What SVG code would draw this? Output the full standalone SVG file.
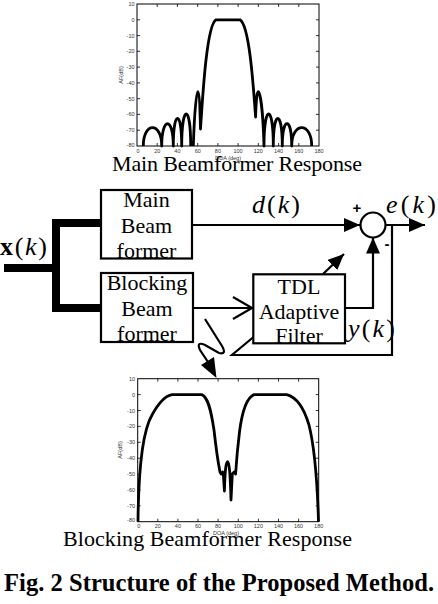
<svg xmlns="http://www.w3.org/2000/svg" width="438" height="604" viewBox="0 0 438 604">
<defs>
<style>
.ax{fill:none;stroke:#000;stroke-width:1}
.tk{fill:none;stroke:#000;stroke-width:0.8}
.cv{fill:none;stroke:#000;stroke-width:2.8;stroke-linejoin:round}
.tl{font-family:"Liberation Sans",Arial,sans-serif;font-size:5.5px;fill:#333}
.ln{fill:none;stroke:#000;stroke-width:2.2}
.bx{fill:#fff;stroke:#000;stroke-width:2.2}
.bt{font-family:"Liberation Serif","Times New Roman",serif;font-size:22px;fill:#000;text-anchor:middle}
.mt{font-family:"Liberation Serif","Times New Roman",serif;font-size:26px;fill:#000}
.cap{font-family:"Liberation Serif","Times New Roman",serif;font-size:22px;fill:#000;text-anchor:middle}
</style>
<marker id="ah" markerWidth="16" markerHeight="14" refX="16" refY="7" orient="auto" markerUnits="userSpaceOnUse"><path d="M0,0 L16,7 L0,14 z" fill="#000"/></marker>
</defs>

<g id="main-response-plot">
<rect class="ax" x="137" y="4" width="182" height="142"/>
<path class="tk" d="M157.2,146v-3M177.4,146v-3M197.7,146v-3M217.9,146v-3M238.1,146v-3M258.3,146v-3M278.6,146v-3M298.8,146v-3M157.2,4v3M177.4,4v3M197.7,4v3M217.9,4v3M238.1,4v3M258.3,4v3M278.6,4v3M298.8,4v3M137,19.8h3M137,35.6h3M137,51.3h3M137,67.1h3M137,82.9h3M137,98.7h3M137,114.4h3M137,130.2h3M319,19.8h-3M319,35.6h-3M319,51.3h-3M319,67.1h-3M319,82.9h-3M319,98.7h-3M319,114.4h-3M319,130.2h-3"/>
<path class="cv" d="M143.3,146 C143.3,121.6 161.7,121.6 161.7,146 C161.7,116.3 173.3,116.3 173.3,146 C173.3,109.1 181.7,109.1 181.7,146 C181.7,103.3 190.7,103.3 190.7,146 M193.3,146 C194.5,110 196.5,91.7 197.8,91.7 C199.2,91.7 199.8,105 200.5,129 C203,90 207,25 216,19.8 L240,19.8 C249,25 253,80 255.6,117 C256.2,96 257.3,91.7 258.4,91.7 C260,91.7 263,110 264,146 C264,103.3 273.3,103.3 273.3,146 C273.3,109.1 282.3,109.1 282.3,146 C282.3,116.3 291.7,116.3 291.7,146 C291.7,121.6 311.7,121.6 311.7,146"/>
<g class="tl" text-anchor="end">
<text x="134.5" y="6">10</text><text x="134.5" y="21.8">0</text><text x="134.5" y="37.6">-10</text><text x="134.5" y="53.3">-20</text><text x="134.5" y="69.1">-30</text><text x="134.5" y="84.9">-40</text><text x="134.5" y="100.7">-50</text><text x="134.5" y="116.4">-60</text><text x="134.5" y="132.2">-70</text><text x="134.5" y="146.5">-80</text>
</g>
<g class="tl" text-anchor="middle">
<text x="138" y="152.5">0</text><text x="157.2" y="152.5">20</text><text x="177.4" y="152.5">40</text><text x="197.7" y="152.5">60</text><text x="217.9" y="152.5">80</text><text x="238.1" y="152.5">100</text><text x="258.3" y="152.5">120</text><text x="278.6" y="152.5">140</text><text x="298.8" y="152.5">160</text><text x="319" y="152.5">180</text>
<text x="228" y="159.5">DOA (deg)</text>
<text x="0" y="0" transform="translate(123,75) rotate(-90)">AF(dB)</text>
</g>
<text class="cap" x="237" y="171" textLength="250" lengthAdjust="spacing">Main Beamformer Response</text>
</g>

<g id="blocking-response-plot">
<rect class="ax" x="137.7" y="378.7" width="181" height="143"/>
<path class="tk" d="M157.8,521.7v-3M177.9,521.7v-3M198,521.7v-3M218.1,521.7v-3M238.3,521.7v-3M258.4,521.7v-3M278.5,521.7v-3M298.6,521.7v-3M157.8,378.7v3M177.9,378.7v3M198,378.7v3M218.1,378.7v3M238.3,378.7v3M258.4,378.7v3M278.5,378.7v3M298.6,378.7v3M137.7,394.6h3M137.7,410.5h3M137.7,426.4h3M137.7,442.3h3M137.7,458.2h3M137.7,474.1h3M137.7,490h3M137.7,505.8h3M318.7,394.6h-3M318.7,410.5h-3M318.7,426.4h-3M318.7,442.3h-3M318.7,458.2h-3M318.7,474.1h-3M318.7,490h-3M318.7,505.8h-3"/>
<path class="cv" d="M138,521.7 C138.5,470 142,432 152,415 C158,404 164,396 172,394.6 L201.7,394.6 C208,397 211,410 214,430 C216,448 218,462 220,472 L221.2,474 L222.6,472 L223.4,475 L224.4,491 C225,470 226,461.7 227.7,461.7 C229.3,461.7 230.3,475 231,500 L232.3,474 L234.2,472 L235.6,474 C236.5,460 237.5,448 239.5,432 C242,412 246,398 254,394.6 L286.7,394.6 C296,397 304,408 309,425 C314,445 317,470 318.5,521.7"/>
<g class="tl" text-anchor="end">
<text x="135" y="380.7">10</text><text x="135" y="396.6">0</text><text x="135" y="412.5">-10</text><text x="135" y="428.4">-20</text><text x="135" y="444.3">-30</text><text x="135" y="460.2">-40</text><text x="135" y="476.1">-50</text><text x="135" y="492">-60</text><text x="135" y="507.8">-70</text><text x="135" y="522">-80</text>
</g>
<g class="tl" text-anchor="middle">
<text x="138.7" y="528">0</text><text x="157.8" y="528">20</text><text x="177.9" y="528">40</text><text x="198" y="528">60</text><text x="218.1" y="528">80</text><text x="238.3" y="528">100</text><text x="258.4" y="528">120</text><text x="278.5" y="528">140</text><text x="298.6" y="528">160</text><text x="318.7" y="528">180</text>
<text x="226" y="535">DOA (deg)</text>
<text x="0" y="0" transform="translate(122,450) rotate(-90)">AF(dB)</text>
</g>
<text class="cap" x="207.5" y="546" textLength="289" lengthAdjust="spacing">Blocking Beamformer Response</text>
</g>

<g id="connectors">
<path d="M4,268 L56,268 M101,223 L56,223 L56,308 L101,308" fill="none" stroke="#000" stroke-width="8" stroke-linejoin="miter"/>
<path class="ln" d="M192,225 L360,225" marker-end="url(#ah)"/>
<path class="ln" d="M385.5,225 L425,225" marker-end="url(#ah)"/>
<path class="ln" d="M392,225 L392,355 L232,355 L253.5,337"/>
<path class="ln" d="M193,308 L252,308 M233,297 L252,308 L233,319"/>
<path class="ln" d="M345,308 L373,308 L373,237.5" marker-end="url(#ah)"/>
<path class="ln" d="M323,274 L344,254" marker-end="url(#ah)"/>
<path class="ln" d="M205,319 L222,346 Q227,355 219,353 L205,345 Q196,341 200,350 L208,362"/>
<path d="M201,365 L214,357 L216.5,378 z" fill="#000"/>
</g>

<g id="input-label">
<text class="mt" x="0" y="255" textLength="47" lengthAdjust="spacing"><tspan font-weight="bold">x</tspan>(<tspan font-style="italic">k</tspan>)</text>
</g>

<g id="main-beamformer">
<rect class="bx" x="101" y="190" width="91" height="68.5"/>
<text class="bt" x="146.5" y="207">Main</text>
<text class="bt" x="146.5" y="233">Beam</text>
<text class="bt" x="146.5" y="258">former</text>
</g>

<g id="blocking-beamformer">
<rect class="bx" x="101" y="273" width="92" height="69"/>
<text class="bt" x="147" y="290">Blocking</text>
<text class="bt" x="147" y="316">Beam</text>
<text class="bt" x="147" y="341">former</text>
</g>

<g id="tdl-filter">
<rect class="bx" x="253.3" y="274.3" width="91.7" height="69"/>
<text class="bt" x="299" y="293.5">TDL</text>
<text class="bt" x="299" y="318.5">Adaptive</text>
<text class="bt" x="299" y="342.5">Filter</text>
</g>

<g id="summer">
<circle cx="373" cy="225" r="12.5" fill="#fff" stroke="#000" stroke-width="2.2"/>
<text x="357" y="213" font-family="Liberation Sans,Arial,sans-serif" font-size="15" font-weight="bold" text-anchor="middle">+</text>
<text x="387" y="249" font-family="Liberation Sans,Arial,sans-serif" font-size="15" font-weight="bold" text-anchor="middle">-</text>
</g>

<g id="signal-labels">
<text class="mt" x="252" y="213" textLength="48" lengthAdjust="spacing"><tspan font-style="italic">d</tspan>(<tspan font-style="italic">k</tspan>)</text>
<text class="mt" x="386" y="213" textLength="50" lengthAdjust="spacing"><tspan font-style="italic">e</tspan>(<tspan font-style="italic">k</tspan>)</text>
<text class="mt" x="348" y="337" textLength="47" lengthAdjust="spacing"><tspan font-style="italic">y</tspan>(<tspan font-style="italic">k</tspan>)</text>
</g>

<g id="caption">
<text x="219" y="591" font-family="Liberation Serif,Times New Roman,serif" font-size="24.5" font-weight="bold" text-anchor="middle" textLength="430" lengthAdjust="spacing">Fig. 2 Structure of the Proposed Method.</text>
</g>
</svg>
